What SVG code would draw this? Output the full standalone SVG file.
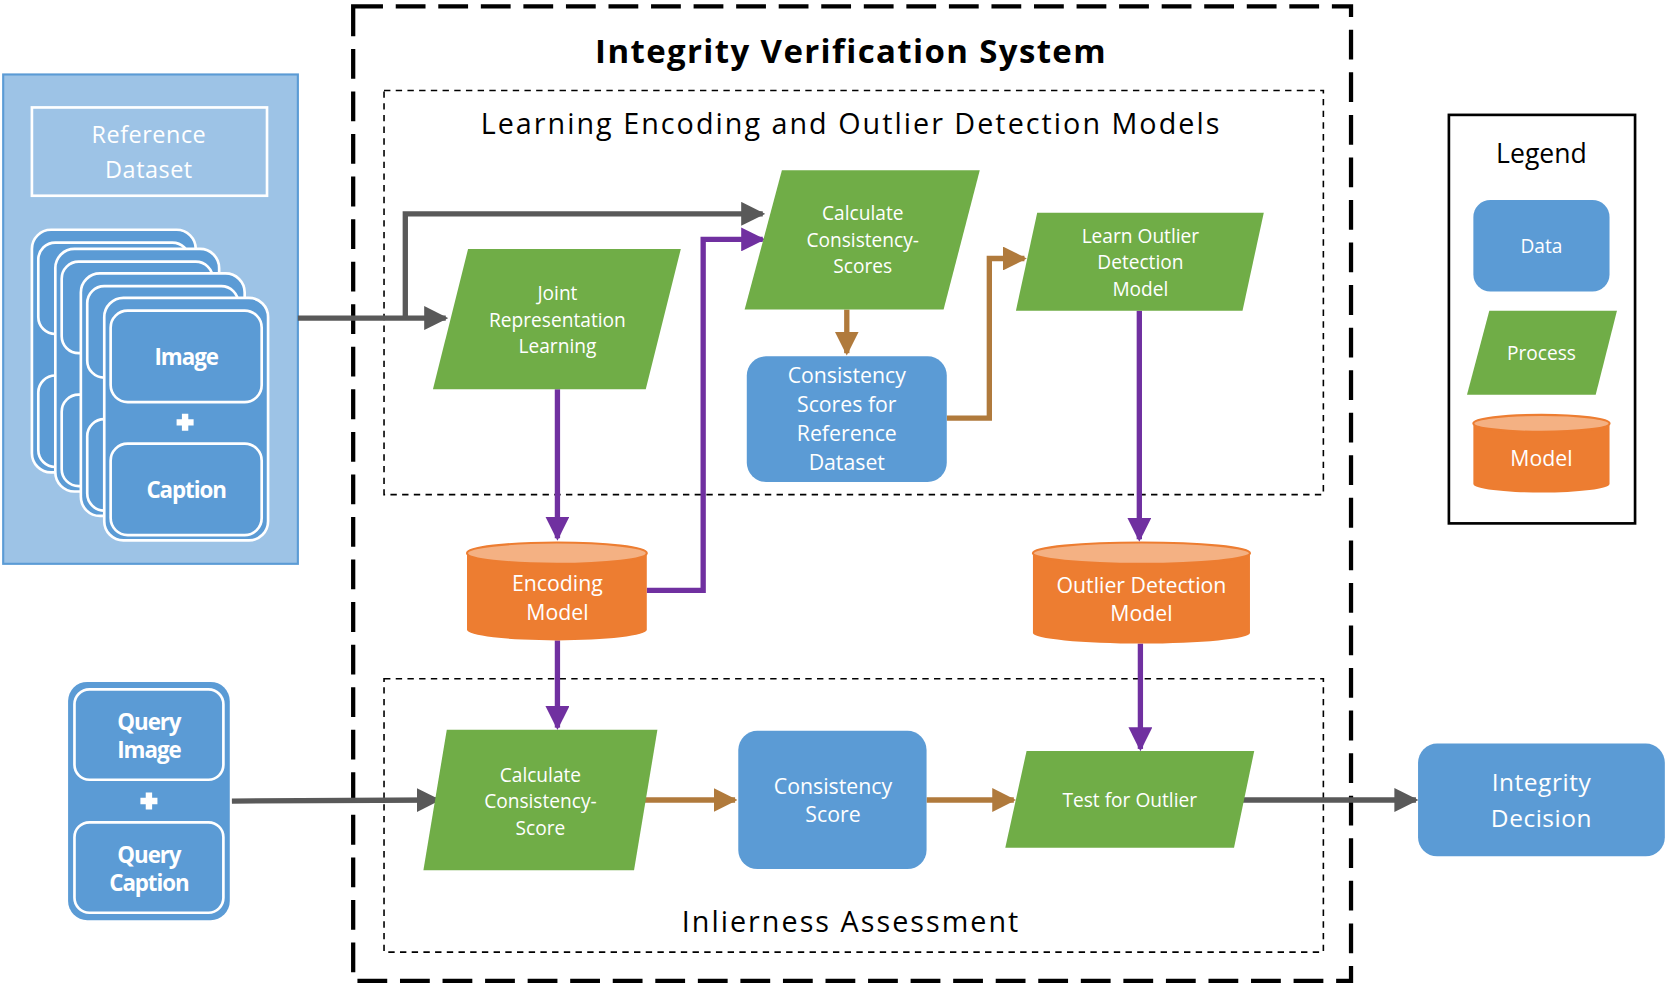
<svg xmlns="http://www.w3.org/2000/svg" width="1668" height="988" viewBox="0 0 1668 988">
<style>
text{font-family:"Open Sans","Liberation Sans",sans-serif;text-anchor:middle}
.w{fill:#fff;font-size:18px}
.proc{fill:#70ad47}
.data{fill:#5b9bd5}
.cylb{fill:#ed7d31}
.cylt{fill:#f4b183;stroke:#ed7d31;stroke-width:2}
.g{stroke:#595959;stroke-width:5;fill:none}
.p{stroke:#7030a0;stroke-width:5;fill:none}
.b{stroke:#b07a3c;stroke-width:5;fill:none}
.card{fill:#5b9bd5;stroke:#fff;stroke-width:2.5}
.bt{fill:#fff;font-size:21px;font-weight:bold;letter-spacing:-1px}
</style>
<defs>
<marker id="ag" viewBox="0 0 10 10" refX="9" refY="5" markerWidth="4.5" markerHeight="4.5" orient="auto"><path d="M0,0L10,5L0,10z" fill="#595959"/></marker>
<marker id="ap" viewBox="0 0 10 10" refX="9" refY="5" markerWidth="4.5" markerHeight="4.5" orient="auto"><path d="M0,0L10,5L0,10z" fill="#7030a0"/></marker>
<marker id="ab" viewBox="0 0 10 10" refX="9" refY="5" markerWidth="4.5" markerHeight="4.5" orient="auto"><path d="M0,0L10,5L0,10z" fill="#b07a3c"/></marker>
</defs>
<rect width="1668" height="988" fill="#fff"/>
<g transform="scale(1.0638)">
<g id="system">
<rect x="332" y="6" width="938" height="916" fill="none" stroke="#000" stroke-width="4" stroke-dasharray="28 12"/>
<text x="800" y="59" style="font-size:31px;font-weight:bold;letter-spacing:1.3px">Integrity Verification System</text>
<rect x="361" y="85" width="883" height="380" fill="none" stroke="#000" stroke-width="1.5" stroke-dasharray="6 5"/>
<text x="800" y="126" style="font-size:27px;letter-spacing:1.9px">Learning Encoding and Outlier Detection Models</text>
<rect x="361" y="638" width="883" height="257" fill="none" stroke="#000" stroke-width="1.5" stroke-dasharray="6 5"/>
<text x="800" y="876" style="font-size:27px;letter-spacing:1.9px">Inlierness Assessment</text>
</g>
<g id="reference-dataset">
<rect x="3" y="70" width="277" height="460" fill="#9dc3e6" stroke="#5b9bd5" stroke-width="2"/>
<rect x="30" y="101" width="221" height="83" fill="none" stroke="#fff" stroke-width="2.5"/>
<text x="140" y="134" class="w" style="font-size:22px;letter-spacing:0.5px">Reference</text>
<text x="140" y="167" class="w" style="font-size:22px;letter-spacing:0.5px">Dataset</text>
<g transform="translate(-68,-64)"><rect x="98" y="280" width="154" height="228" rx="18" class="card"/><rect x="104" y="292" width="142" height="86" rx="16" class="card"/><rect x="104" y="417" width="142" height="86" rx="16" class="card"/></g>
<g transform="translate(-46,-46)"><rect x="98" y="280" width="154" height="228" rx="18" class="card"/><rect x="104" y="292" width="142" height="86" rx="16" class="card"/><rect x="104" y="417" width="142" height="86" rx="16" class="card"/></g>
<g transform="translate(-22,-23)"><rect x="98" y="280" width="154" height="228" rx="18" class="card"/><rect x="104" y="292" width="142" height="86" rx="16" class="card"/><rect x="104" y="417" width="142" height="86" rx="16" class="card"/></g>
<rect x="98" y="280" width="154" height="228" rx="18" class="card"/>
<rect x="104" y="292" width="142" height="86" rx="16" class="card"/>
<rect x="104" y="417" width="142" height="86" rx="16" class="card"/>
<text x="175" y="343" class="bt">Image</text>
<path d="M174,389v16M166,397h16" stroke="#fff" stroke-width="6"/>
<text x="175" y="468" class="bt">Caption</text>
</g>
<g id="connectors">
<path class="g" d="M280,299H419" marker-end="url(#ag)"/>
<path class="g" d="M381,299V201H717" marker-end="url(#ag)"/>
<path class="p" d="M524,366V506" marker-end="url(#ap)"/>
<path class="p" d="M608,555H661V225H717" marker-end="url(#ap)"/>
<path class="b" d="M796,291V332" marker-end="url(#ab)"/>
<path class="b" d="M890,393H930V243H963" marker-end="url(#ab)"/>
<path class="p" d="M1071,292V507" marker-end="url(#ap)"/>
<path class="p" d="M1072,605V704" marker-end="url(#ap)"/>
<path class="p" d="M524,602V684" marker-end="url(#ap)"/>
<path class="g" d="M218,753L412,752" marker-end="url(#ag)"/>
<path class="b" d="M600,752H691" marker-end="url(#ab)"/>
<path class="b" d="M871,752H953" marker-end="url(#ab)"/>
<path class="g" d="M1168,752H1331" marker-end="url(#ag)"/>
</g>
<g id="joint-representation-learning">
<polygon class="proc" points="440,234 640,234 607,366 407,366"/>
<text class="w" x="524" y="282">Joint</text><text class="w" x="524" y="307">Representation</text><text class="w" x="524" y="332">Learning</text>
</g>
<g id="calc-scores">
<polygon class="proc" points="735,160 921,160 887,291 700,291"/>
<text class="w" x="811" y="207">Calculate</text><text class="w" x="811" y="232">Consistency-</text><text class="w" x="811" y="257">Scores</text>
</g>
<g id="learn-outlier">
<polygon class="proc" points="975,200 1188,200 1168,292 955,292"/>
<text class="w" x="1072" y="228">Learn Outlier</text><text class="w" x="1072" y="253">Detection</text><text class="w" x="1072" y="278">Model</text>
</g>
<g id="scores-reference">
<rect class="data" x="702" y="335" width="188" height="118" rx="18"/>
<text class="w" x="796" y="360" style="font-size:20px">Consistency</text><text class="w" x="796" y="387" style="font-size:20px">Scores for</text><text class="w" x="796" y="415" style="font-size:20px">Reference</text><text class="w" x="796" y="442" style="font-size:20px">Dataset</text>
</g>
<g id="encoding-model">
<path class="cylb" d="M439,520V592A84.5,10 0 0 0 608,592V520z"/>
<ellipse class="cylt" cx="523.5" cy="520" rx="84.5" ry="10"/>
<text class="w" x="524" y="556" style="font-size:20px">Encoding</text><text class="w" x="524" y="583" style="font-size:20px">Model</text>
</g>
<g id="outlier-model">
<path class="cylb" d="M971,520V595A102,10 0 0 0 1175,595V520z"/>
<ellipse class="cylt" cx="1073" cy="520" rx="102" ry="10"/>
<text class="w" x="1073" y="557" style="font-size:20px">Outlier Detection</text><text class="w" x="1073" y="584" style="font-size:20px">Model</text>
</g>
<g id="query">
<rect x="64" y="641" width="152" height="224" rx="18" fill="#5b9bd5"/>
<rect class="card" x="70" y="648" width="140" height="85" rx="14"/>
<rect class="card" x="70" y="773" width="140" height="85" rx="14"/>
<text class="bt" x="140" y="686">Query</text><text class="bt" x="140" y="713">Image</text>
<path d="M140,745v16M132,753h16" stroke="#fff" stroke-width="6"/>
<text class="bt" x="140" y="811">Query</text><text class="bt" x="140" y="838">Caption</text>
</g>
<g id="calc-score">
<polygon class="proc" points="420,686 618,686 596,818 398,818"/>
<text class="w" x="508" y="735">Calculate</text><text class="w" x="508" y="760">Consistency-</text><text class="w" x="508" y="785">Score</text>
</g>
<g id="consistency-score">
<rect class="data" x="694" y="687" width="177" height="130" rx="18"/>
<text class="w" x="783" y="746" style="font-size:20px">Consistency</text><text class="w" x="783" y="773" style="font-size:20px">Score</text>
</g>
<g id="test-outlier">
<polygon class="proc" points="965,706 1179,706 1160,797 945,797"/>
<text class="w" x="1062" y="759">Test for Outlier</text>
</g>
<g id="integrity-decision">
<rect class="data" x="1333" y="699" width="232" height="106" rx="18"/>
<text class="w" x="1449" y="744" style="font-size:23px;letter-spacing:0.5px">Integrity</text><text class="w" x="1449" y="777" style="font-size:23px;letter-spacing:0.5px">Decision</text>
</g>
<g id="legend">
<rect x="1362" y="108" width="175" height="384" fill="none" stroke="#000" stroke-width="2.5"/>
<text x="1449" y="153" style="font-size:25px">Legend</text>
<rect class="data" x="1385" y="188" width="128" height="86" rx="16"/>
<text class="w" x="1449" y="238">Data</text>
<polygon class="proc" points="1400,292 1520,292 1500,371 1379,371"/>
<text class="w" x="1449" y="338">Process</text>
<path class="cylb" d="M1385,398V455A64,8 0 0 0 1513,455V398z"/>
<ellipse class="cylt" cx="1449" cy="398" rx="64" ry="8"/>
<text class="w" x="1449" y="438" style="font-size:20px">Model</text>
</g>
</g>
</svg>
